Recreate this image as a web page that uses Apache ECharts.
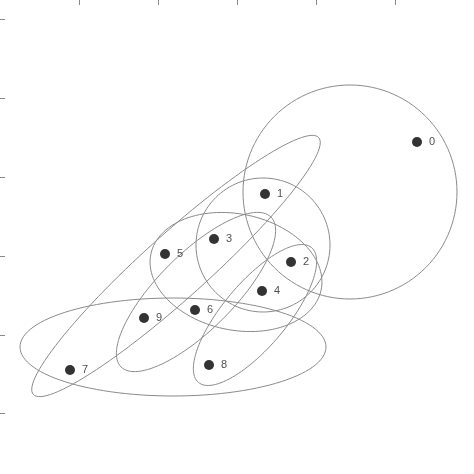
<!DOCTYPE html>
<html>
<head>
<meta charset="utf-8">
<script src="https://cdn.jsdelivr.net/npm/echarts@6/dist/echarts.min.js"></script>
<style>html,body{margin:0;padding:0;background:#fff}#main{width:474px;height:474px}</style>
</head>
<body>
<div id="main"></div>
<script>
// point positions (plot units) and labels
const pointLabels = ['0', '1', '2', '3', '4', '5', '6', '7', '8', '9']
const pointX = [417, 265, 291, 214, 262, 165, 195, 70, 209, 144]
const pointY = [142, 194, 262, 239, 291, 254, 310, 370, 365, 318]

// ellipses: centre, semi axes, tilt (degrees, up-right positive)
const ellCx = [350, 263, 236, 176, 196, 255, 173]
const ellCy = [192, 245, 272, 266, 292, 315, 347]
const ellA = [107, 67, 87, 192, 106, 88, 153]
const ellB = [107, 67, 58, 32, 38, 32, 49]
const ellAngle = [0, 0, -12, 42, 45, 50, 0]

const xTicks = [79, 158, 237, 316, 395]
const yTicks = [19.5, 98, 177, 256, 335, 413]

const chart = echarts.init(document.getElementById('main'))

const tickStyle = { show: true, inside: true, length: 5, lineStyle: { color: '#888' } }
const xAx = (pos) => ({
  type: 'value', min: 0, max: 474, position: pos,
  axisLine: { show: false }, splitLine: { show: false }, axisLabel: { show: false },
  axisTick: Object.assign({ customValues: xTicks }, tickStyle)
})
const yAx = (pos) => ({
  type: 'value', min: 0, max: 474, inverse: true, position: pos,
  axisLine: { show: false }, splitLine: { show: false }, axisLabel: { show: false },
  axisTick: Object.assign({ customValues: yTicks }, tickStyle)
})

const ellData = ellCx.map((cx, i) => [cx, ellCy[i], ellA[i], ellB[i], ellAngle[i]])

chart.setOption({
  animation: false,
  grid: { left: 0, right: 0, top: 0, bottom: 0 },
  xAxis: [xAx('top'), xAx('bottom')],
  yAxis: [yAx('left'), yAx('right')],
  series: [
    {
      type: 'custom',
      data: ellData,
      silent: true,
      renderItem: (params, api) => {
        const cx = api.value(0), cy = api.value(1), a = api.value(2), b = api.value(3)
        const th = api.value(4) * Math.PI / 180
        const pts = []
        for (let k = 0; k < 120; k++) {
          const t = k / 120 * 2 * Math.PI
          const x = cx + a * Math.cos(t) * Math.cos(th) - b * Math.sin(t) * Math.sin(th)
          const y = cy - (a * Math.cos(t) * Math.sin(th) + b * Math.sin(t) * Math.cos(th))
          pts.push(api.coord([x, y]))
        }
        return {
          type: 'polygon',
          shape: { points: pts },
          style: { fill: 'none', stroke: '#8a8a8a', lineWidth: 1 }
        }
      }
    },
    {
      type: 'scatter',
      symbolSize: 10,
      itemStyle: { color: '#000' },
      data: pointX.map((x, i) => ({ value: [x, pointY[i]], name: pointLabels[i] })),
      label: {
        show: true, position: 'right', distance: 7,
        formatter: (p) => p.name,
        fontSize: 11, color: '#222', fontFamily: 'Liberation Sans'
      }
    }
  ]
})
</script>
</body>
</html>
